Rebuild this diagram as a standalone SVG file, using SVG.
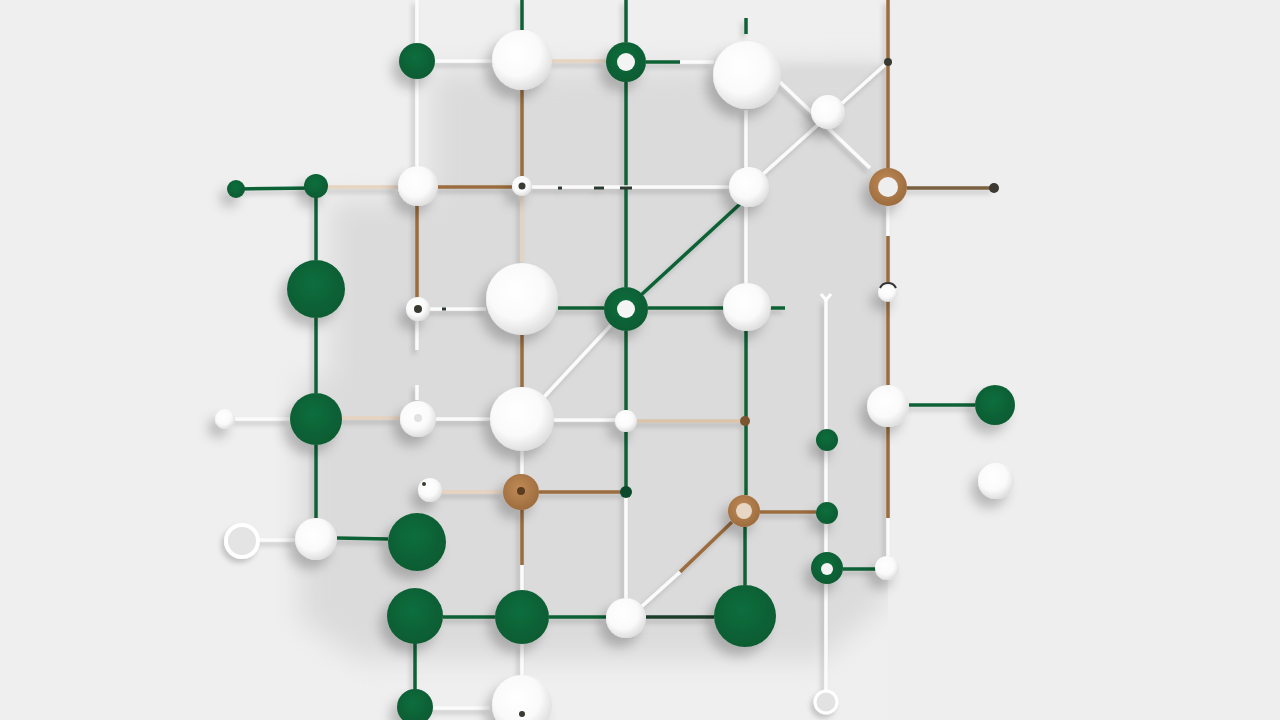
<svg xmlns="http://www.w3.org/2000/svg" width="1280" height="720" viewBox="0 0 1280 720">
<defs>
<radialGradient id="sph" cx="0.42" cy="0.38" r="0.65">
<stop offset="0" stop-color="#ffffff"/><stop offset="0.6" stop-color="#fafafa"/><stop offset="1" stop-color="#dcdcdc"/>
</radialGradient>
<radialGradient id="grn" cx="0.45" cy="0.4" r="0.65">
<stop offset="0" stop-color="#0f6e3d"/><stop offset="1" stop-color="#0a5a31"/>
</radialGradient>
<radialGradient id="brn" cx="0.45" cy="0.4" r="0.65">
<stop offset="0" stop-color="#c08a56"/><stop offset="1" stop-color="#9a6a3c"/>
</radialGradient>
<filter id="blurP" filterUnits="userSpaceOnUse" x="0" y="0" width="1280" height="720"><feGaussianBlur stdDeviation="14"/></filter>
<filter id="blurS" filterUnits="userSpaceOnUse" x="0" y="0" width="1280" height="720"><feGaussianBlur stdDeviation="4"/></filter>
<filter id="sh" filterUnits="userSpaceOnUse" x="0" y="0" width="1280" height="720"><feDropShadow dx="-7" dy="9" stdDeviation="6" flood-color="#000" flood-opacity="0.22"/></filter>
<filter id="shs" filterUnits="userSpaceOnUse" x="0" y="0" width="1280" height="720"><feDropShadow dx="-3" dy="4" stdDeviation="2.5" flood-color="#000" flood-opacity="0.18"/></filter>
<style>
.g{fill:url(#grn);filter:url(#sh)}
.w{fill:url(#sph);filter:url(#sh)}
.b{fill:url(#brn);filter:url(#sh)}
.hole{fill:#f4f4f4}
.dk{fill:#3a3a32}
line{stroke-width:3.5;fill:none}
.lg{stroke:#0c6236}
.lw{stroke:#fbfbfb}
.lb{stroke:#9b6c3e}
.lc{stroke:#e6d3c0}
.ld{stroke:#2c3a30}
</style>
</defs>
<rect width="1280" height="720" fill="#efefef"/>
<g id="panel">
<path d="M300 230 L300 380 L330 380 L330 200 L430 200 L430 70 L888 65 L888 600 L820 660 L360 660 L300 620 Z" fill="#dbdbdb" filter="url(#blurP)"/>
<path d="M780 65 L888 65 L888 560 L860 560 L860 90 L780 90 Z" fill="#dbdbdb" filter="url(#blurS)"/>
<rect x="888" y="0" width="392" height="720" fill="#eeeeee"/>
</g>
<g id="connectors" filter="url(#shs)">
<line class="lw" x1="417" y1="0" x2="417" y2="170"/>
<line class="lb" x1="417" y1="205" x2="417" y2="298"/>
<line class="lw" x1="417" y1="320" x2="417" y2="350"/>
<line class="lw" x1="417" y1="385" x2="417" y2="400"/>
<line class="lg" x1="415" y1="640" x2="415" y2="690"/>
<line class="lg" x1="522" y1="0" x2="522" y2="30"/>
<line class="lb" x1="522" y1="90" x2="522" y2="176"/>
<line class="lc" x1="522" y1="196" x2="522" y2="262"/>
<line class="lb" x1="522" y1="335" x2="522" y2="387"/>
<line class="lw" x1="522" y1="451" x2="522" y2="474"/>
<line class="lb" x1="522" y1="510" x2="522" y2="565"/>
<line class="lw" x1="522" y1="565" x2="522" y2="590"/>
<line class="lw" x1="522" y1="644" x2="522" y2="676"/>
<line class="lg" x1="626" y1="0" x2="626" y2="42"/>
<line class="lg" x1="626" y1="82" x2="626" y2="287"/>
<line class="lg" x1="626" y1="331" x2="626" y2="410"/>
<line class="lg" x1="626" y1="432" x2="626" y2="492"/>
<line class="lw" x1="626" y1="492" x2="626" y2="598"/>
<line class="lg" x1="746" y1="18" x2="746" y2="34"/>
<line class="lw" x1="746" y1="110" x2="746" y2="283"/>
<line class="lg" x1="746" y1="331" x2="746" y2="495"/>
<line class="lg" x1="745" y1="527" x2="745" y2="585"/>
<line class="lg" x1="316" y1="186" x2="316" y2="260"/>
<line class="lg" x1="316" y1="318" x2="316" y2="393"/>
<line class="lg" x1="316" y1="445" x2="316" y2="518"/>
<line class="lb" x1="888" y1="0" x2="888" y2="168"/>
<line class="lw" x1="888" y1="206" x2="888" y2="236"/>
<line class="lb" x1="888" y1="236" x2="888" y2="385"/>
<line class="lb" x1="888" y1="427" x2="888" y2="518"/>
<line class="lw" x1="888" y1="518" x2="888" y2="556"/>
<line class="lw" x1="826" y1="300" x2="826" y2="690"/>
<line class="lw" x1="435" y1="61" x2="492" y2="61"/>
<line class="lc" x1="552" y1="61" x2="606" y2="61"/>
<line class="lg" x1="646" y1="62" x2="680" y2="62"/>
<line class="lw" x1="680" y1="62" x2="714" y2="62"/>
<line class="lg" x1="236" y1="189" x2="316" y2="188"/>
<line class="lc" x1="328" y1="187" x2="398" y2="187"/>
<line class="lb" x1="438" y1="187" x2="512" y2="187"/>
<line class="lw" x1="532" y1="187" x2="730" y2="187"/>
<line class="ld" x1="558" y1="188" x2="562" y2="188" style="stroke-width:3"/>
<line class="ld" x1="594" y1="188" x2="604" y2="188" style="stroke-width:3"/>
<line class="ld" x1="620" y1="188" x2="632" y2="188" style="stroke-width:3"/>
<line x1="907" y1="188" x2="994" y2="188" stroke="#7a6040"/>
<line class="lw" x1="430" y1="309" x2="486" y2="309"/>
<line class="ld" x1="442" y1="309" x2="446" y2="309" style="stroke-width:3"/>
<line class="lg" x1="558" y1="308" x2="604" y2="308"/>
<line class="lg" x1="648" y1="308" x2="724" y2="308"/>
<line class="lg" x1="770" y1="308" x2="785" y2="308"/>
<line class="lw" x1="235" y1="419" x2="290" y2="419"/>
<line class="lc" x1="342" y1="418" x2="400" y2="418"/>
<line class="lw" x1="436" y1="419" x2="490" y2="419"/>
<line class="lw" x1="554" y1="420" x2="615" y2="420"/>
<line x1="637" y1="421" x2="745" y2="421" stroke="#dcc4aa"/>
<line class="lg" x1="909" y1="405" x2="975" y2="405"/>
<line class="lc" x1="442" y1="492" x2="503" y2="492"/>
<line class="lb" x1="539" y1="492" x2="626" y2="492"/>
<line class="lb" x1="760" y1="512" x2="816" y2="512"/>
<line class="lw" x1="258" y1="540" x2="295" y2="540"/>
<line class="lg" x1="337" y1="538" x2="388" y2="539"/>
<line class="lg" x1="843" y1="569" x2="876" y2="569"/>
<line class="lg" x1="443" y1="617" x2="495" y2="617"/>
<line class="lg" x1="549" y1="617" x2="606" y2="617"/>
<line x1="646" y1="617" x2="714" y2="617" stroke="#1f3d2c"/>
<line class="lw" x1="433" y1="708" x2="490" y2="708"/>
<line class="lg" x1="640" y1="296" x2="740" y2="204"/>
<line class="lw" x1="762" y1="175" x2="888" y2="62"/>
<line class="lw" x1="780" y1="82" x2="870" y2="168"/>
<line class="lw" x1="544" y1="397" x2="612" y2="324"/>
<line class="lb" x1="732" y1="522" x2="680" y2="572"/>
<line class="lw" x1="680" y1="572" x2="640" y2="608"/>
</g>
<g id="n-top">
<circle class="g" cx="417" cy="61" r="18"/>
<circle class="w" cx="522" cy="60" r="30"/>
<g id="ring1"><circle class="g" cx="626" cy="62" r="20"/><circle class="hole" cx="626" cy="62" r="9"/></g>
<circle class="w" cx="747" cy="75" r="34"/>
<circle class="dk" cx="888" cy="62" r="4"/>
<circle class="w" cx="828" cy="112" r="17"/>
</g>
<g id="n-row2">
<circle class="g" cx="236" cy="189" r="9"/>
<circle class="g" cx="316" cy="186" r="12"/>
<circle class="w" cx="418" cy="186" r="20"/>
<g><circle class="w" cx="522" cy="186" r="10"/><circle class="dk" cx="522" cy="186" r="3.5"/></g>
<circle class="w" cx="749" cy="187" r="20"/>
<g><circle class="b" cx="888" cy="187" r="19"/><circle fill="#eeeeee" cx="888" cy="187" r="10"/></g>
<circle class="dk" cx="994" cy="188" r="5"/>
</g>
<g id="n-row3">
<circle class="g" cx="316" cy="289" r="29"/>
<g><circle class="w" cx="418" cy="309" r="12"/><circle class="dk" cx="418" cy="309" r="4"/></g>
<circle class="w" cx="522" cy="299" r="36"/>
<g><circle class="g" cx="626" cy="309" r="22"/><circle class="hole" cx="626" cy="309" r="9"/></g>
<circle class="w" cx="747" cy="307" r="24"/>
<path d="M821 294 L826 300 L831 294" stroke="#fff" stroke-width="3" fill="none"/>
<g><circle class="w" cx="888" cy="292" r="10"/><path d="M880 288 A9 9 0 0 1 896 288" stroke="#333" stroke-width="2" fill="none"/></g>
</g>
<g id="n-row4">
<circle class="w" cx="225" cy="419" r="10"/>
<circle class="g" cx="316" cy="419" r="26"/>
<g><circle class="w" cx="418" cy="419" r="18"/><circle fill="#e2e2e2" cx="418" cy="418" r="4"/></g>
<circle class="w" cx="522" cy="419" r="32"/>
<circle class="w" cx="626" cy="421" r="11"/>
<circle fill="#7a5530" cx="745" cy="421" r="5"/>
<circle class="w" cx="888" cy="406" r="21"/>
<circle class="g" cx="995" cy="405" r="20"/>
</g>
<g id="n-row5">
<g><circle class="w" cx="430" cy="490" r="12"/><circle class="dk" cx="424" cy="484" r="2"/></g>
<g><circle class="b" cx="521" cy="492" r="18"/><circle fill="#5a3d20" cx="521" cy="491" r="4"/></g>
<circle fill="#0b4a2a" cx="626" cy="492" r="6"/>
<circle class="g" cx="827" cy="440" r="11"/>
<g><circle class="b" cx="744" cy="511" r="16"/><circle fill="#e8d6c4" cx="744" cy="511" r="8"/></g>
<circle class="g" cx="827" cy="513" r="11"/>
<circle class="w" cx="996" cy="481" r="18"/>
</g>
<g id="n-row6">
<circle cx="242" cy="541" r="16" fill="#e4e4e4" stroke="#ffffff" stroke-width="4" filter="url(#shs)"/>
<circle class="w" cx="316" cy="539" r="21"/>
<circle class="g" cx="417" cy="542" r="29"/>
<g><circle class="g" cx="827" cy="568" r="16"/><circle class="hole" cx="827" cy="569" r="6"/></g>
<circle class="w" cx="887" cy="568" r="12"/>
</g>
<g id="n-row7">
<circle class="g" cx="415" cy="616" r="28"/>
<circle class="g" cx="522" cy="617" r="27"/>
<circle class="w" cx="626" cy="618" r="20"/>
<circle class="g" cx="745" cy="616" r="31"/>
</g>
<g id="n-bottom">
<circle class="g" cx="415" cy="707" r="18"/>
<g><circle class="w" cx="522" cy="705" r="30"/><circle class="dk" cx="522" cy="714" r="3"/></g>
<circle cx="826" cy="702" r="11" fill="#e2e2e2" stroke="#fff" stroke-width="3" filter="url(#shs)"/>
</g>
</svg>
